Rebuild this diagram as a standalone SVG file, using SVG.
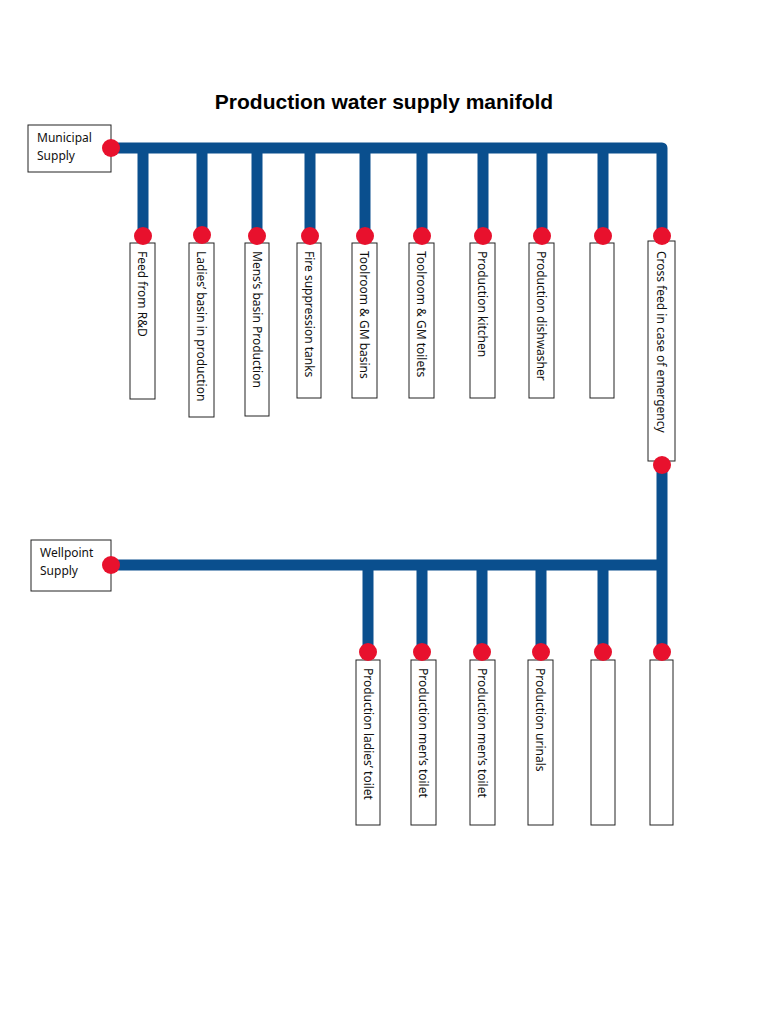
<svg xmlns="http://www.w3.org/2000/svg" width="768" height="1024" viewBox="0 0 768 1024">
<style>
.p{stroke:#0a4f8e;stroke-width:11;fill:none;stroke-linejoin:round}
.b{fill:#fff;stroke:#222;stroke-width:1}
.d{fill:#e8112d}
.t{font-family:"Noto Sans","Liberation Sans",sans-serif;font-size:12px;fill:#111}
.h{font-family:"Liberation Sans",sans-serif;font-size:21px;font-weight:bold;fill:#000}
</style>
<rect width="768" height="1024" fill="#fff"/>
<text class="h" x="384" y="109" text-anchor="middle">Production water supply manifold</text>
<g id="connectors">
<path class="p" d="M111 148H662V465M143 148V236M202 148V236M257 148V236M310 148V236M365 148V236M422 148V236M483 148V236M542 148V236M603 148V236M662 465V565M111 565H662M368 565V652M422 565V652M482 565V652M541 565V652M603 565V652M662 565V652"/>
</g>
<g id="municipal"><rect class="b" x="28" y="125" width="83" height="47"/><text class="t" x="37" y="142">Municipal</text><text class="t" x="37" y="160">Supply</text></g>
<g id="wellpoint"><rect class="b" x="31" y="540" width="80" height="51"/><text class="t" x="40" y="557">Wellpoint</text><text class="t" x="40" y="575">Supply</text></g>
<g id="n1"><rect class="b" x="130" y="243" width="25" height="156"/><text class="t" transform="translate(138,251) rotate(90)">Feed from R&amp;D</text></g>
<g id="n2"><rect class="b" x="189" y="243" width="25" height="174"/><text class="t" transform="translate(197,251) rotate(90)">Ladies’ basin in production</text></g>
<g id="n3"><rect class="b" x="245" y="243" width="24" height="173"/><text class="t" transform="translate(253,251) rotate(90)">Mens’s basin Production</text></g>
<g id="n4"><rect class="b" x="297" y="243" width="24" height="155"/><text class="t" transform="translate(305,251) rotate(90)">Fire suppression tanks</text></g>
<g id="n5"><rect class="b" x="352" y="243" width="25" height="155"/><text class="t" transform="translate(360,251) rotate(90)">Toolroom &amp; GM basins</text></g>
<g id="n6"><rect class="b" x="409" y="243" width="25" height="155"/><text class="t" transform="translate(417,251) rotate(90)">Toolroom &amp; GM toilets</text></g>
<g id="n7"><rect class="b" x="470" y="243" width="25" height="155"/><text class="t" transform="translate(478,251) rotate(90)">Production kitchen</text></g>
<g id="n8"><rect class="b" x="529" y="243" width="25" height="155"/><text class="t" transform="translate(537,251) rotate(90)">Production dishwasher</text></g>
<g id="n9"><rect class="b" x="590" y="243" width="24" height="155"/></g>
<g id="n10"><rect class="b" x="648" y="241" width="27" height="220"/><text class="t" transform="translate(657,251) rotate(90)">Cross feed in case of emergency</text></g>
<g id="m1"><rect class="b" x="356" y="660" width="24" height="165"/><text class="t" transform="translate(364,668) rotate(90)">Production ladies’ toilet</text></g>
<g id="m2"><rect class="b" x="411" y="660" width="25" height="165"/><text class="t" transform="translate(419,668) rotate(90)">Production men’s toilet</text></g>
<g id="m3"><rect class="b" x="470" y="660" width="25" height="165"/><text class="t" transform="translate(478,668) rotate(90)">Production men’s toilet</text></g>
<g id="m4"><rect class="b" x="528" y="660" width="25" height="165"/><text class="t" transform="translate(536,668) rotate(90)">Production urinals</text></g>
<g id="m5"><rect class="b" x="591" y="660" width="24" height="165"/></g>
<g id="m6"><rect class="b" x="650" y="660" width="23" height="165"/></g>
<g id="dots">
<circle class="d" cx="111" cy="148" r="9"/><circle class="d" cx="111" cy="565" r="9"/>
<circle class="d" cx="143" cy="236" r="9"/><circle class="d" cx="202" cy="235" r="9"/><circle class="d" cx="257" cy="236" r="9"/><circle class="d" cx="310" cy="236" r="9"/><circle class="d" cx="365" cy="236" r="9"/><circle class="d" cx="422" cy="236" r="9"/><circle class="d" cx="483" cy="236" r="9"/><circle class="d" cx="542" cy="236" r="9"/><circle class="d" cx="603" cy="236" r="9"/><circle class="d" cx="662" cy="236" r="9"/><circle class="d" cx="662" cy="465" r="9"/>
<circle class="d" cx="368" cy="652" r="9"/><circle class="d" cx="422" cy="652" r="9"/><circle class="d" cx="482" cy="652" r="9"/><circle class="d" cx="541" cy="652" r="9"/><circle class="d" cx="603" cy="652" r="9"/><circle class="d" cx="662" cy="652" r="9"/>
</g>
</svg>
